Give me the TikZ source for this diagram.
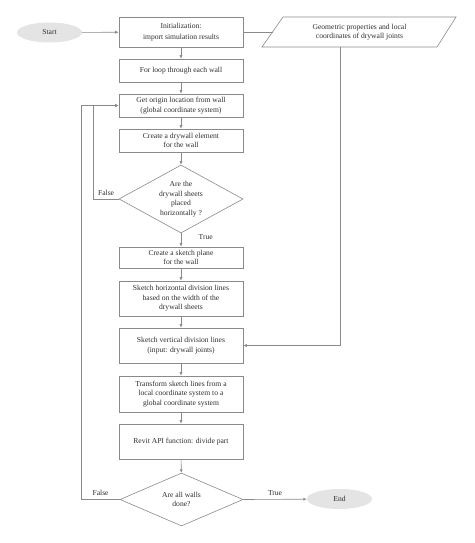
\documentclass[tikz,border=0pt]{standalone}
\usepackage{fontspec}
\setmainfont{Liberation Serif}
\usetikzlibrary{arrows.meta,shapes.geometric}
\definecolor{ln}{HTML}{8A8A8A}
\definecolor{tx}{HTML}{2E2E2E}
\definecolor{ov}{HTML}{E4E4E4}
\begin{document}
\begin{tikzpicture}[x=1pt,y=-1pt,
  every node/.style={font=\fontsize{7.6}{9.5}\selectfont, text=tx, align=center},
  proc/.style={draw=ln, line width=0.6pt, rectangle, minimum width=124pt, inner sep=0pt},
  term/.style={ellipse, fill=ov, minimum width=65pt, minimum height=20pt, inner sep=0pt},
  dec/.style={draw=ln, line width=0.6pt, diamond, inner sep=0pt, shape aspect=1.8},
  conn/.style={draw=ln, line width=0.6pt},
  arr/.style={conn, -{Latex[length=3.5pt,width=3pt]}},
  lbl/.style={font=\fontsize{7.6}{9}\selectfont}]
\useasboundingbox (0,0) rectangle (474,543);
% terminals
\node[term] (start) at (49.5,32.5) {Start};
\node[term] (end) at (339.5,499) {End};
% process boxes
\node[proc, minimum height=30pt] (init) at (181,32) {Initialization:\\[1.5pt]import simulation results};
\node[proc, minimum height=23pt] (loop) at (181,70.5) {For loop through each wall};
\node[proc, minimum height=23pt] (orig) at (181,105.5) {Get origin location from wall\\(global coordinate system)};
\node[proc, minimum height=23pt] (elem) at (181,140.5) {Create a drywall element\\for the wall};
\node[dec, minimum width=124pt, minimum height=68pt] (d1) at (181,199) {Are the\\drywall sheets\\placed\\horizontally ?};
\node[proc, minimum height=21pt] (plane) at (181,257.5) {Create a sketch plane\\for the wall};
\node[proc, minimum height=35pt] (horiz) at (181,298.5) {Sketch horizontal division lines\\based on the width of the\\drywall sheets};
\node[proc, minimum height=35pt] (vert) at (181,345.5) {Sketch vertical division lines\\(input: drywall joints)};
\node[proc, minimum height=36pt] (trans) at (181,394) {Transform sketch lines from a\\local coordinate system to a\\global coordinate system};
\node[proc, minimum height=35pt] (revit) at (181,441.5) {Revit API function: divide part};
\node[dec, minimum width=123pt, minimum height=53pt, shape aspect=2.3] (d2) at (181.5,499.5) {Are all walls\\done?};
% input parallelogram
\coordinate (p1) at (262,47);
\coordinate (p2) at (283,17);
\coordinate (p3) at (456,17);
\coordinate (p4) at (437,47);
\draw[conn] (p1) -- (p2) -- (p3) -- (p4) -- cycle;
\node (geo) at (359.5,32) {Geometric properties and local\\coordinates of drywall joints};
\coordinate (geoin) at (272.5,32);
\coordinate (geobot) at (340.7,47);
% connectors
\draw[arr] (start) -- (init);
\draw[conn] (init.east) -- (geoin);
\draw[arr] (init) -- (loop);
\draw[arr] (loop) -- (orig);
\draw[arr] (orig) -- (elem);
\draw[arr] (elem) -- (d1);
\draw[arr] (d1) -- node[lbl, pos=0.3, right=14pt] {True} (plane);
\draw[arr] (plane) -- (horiz);
\draw[arr] (horiz) -- (vert);
\draw[arr] (vert) -- (trans);
\draw[arr] (trans) -- (revit);
\draw[arr] (revit) -- (d2);
\draw[arr] (geobot) |- (vert.east);
\draw[arr] (d1.west) -- (93.5,199) node[lbl, pos=0.5, above] {False} |- (orig.west);
\draw[arr] (d2.west) -- (81.5,499.5) node[lbl, pos=0.5, above] {False} |- (orig.west);
\draw[arr] (d2.east) -- node[lbl, pos=0.5, above] {True} (end);
\end{tikzpicture}
\end{document}
